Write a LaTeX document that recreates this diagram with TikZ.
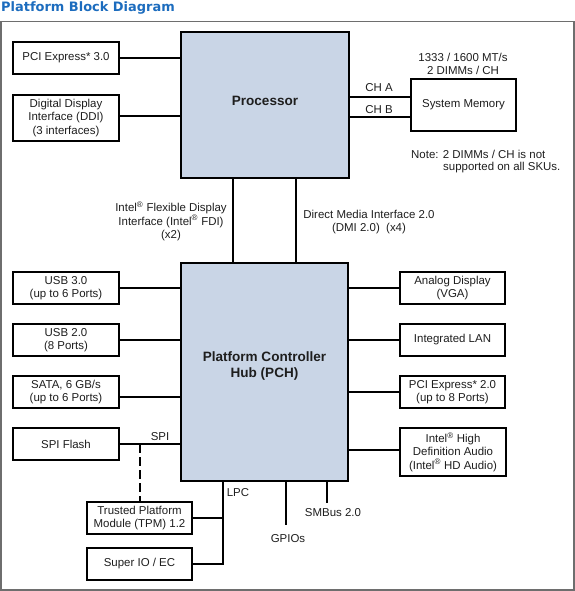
\documentclass[tikz,border=0pt]{standalone}
\usepackage{fontspec}
\setmainfont{Liberation Sans}
\newfontfamily\titlefont{DejaVu Sans}
\definecolor{chipfill}{RGB}{201,213,230}
\definecolor{titleblue}{RGB}{28,108,190}
\definecolor{framegray}{RGB}{110,110,110}
\definecolor{txt}{RGB}{30,30,30}
\begin{document}
\begin{tikzpicture}[x=1bp,y=-1bp,
  box/.style={draw=black,line width=2bp,fill=white,rectangle,inner sep=1pt,
    align=center,font=\fontsize{11.5}{13.5}\selectfont,text=txt},
  chip/.style={draw=black,line width=2bp,fill=chipfill,rectangle,inner sep=0pt},
  chiplbl/.style={inner sep=0pt,align=center,font=\fontsize{13.6}{15.5}\selectfont\bfseries,text=txt},
  lbl/.style={inner sep=0pt,align=center,font=\fontsize{11.5}{13.5}\selectfont,text=txt},
  wire/.style={draw=black,line width=2bp}]
\useasboundingbox (0,0) rectangle (575,591);
\node[anchor=west,inner sep=0pt,text=titleblue,font=\titlefont\fontsize{13}{15}\selectfont\bfseries] (title) at (1,7.5) {Platform Block Diagram};
\draw[framegray,line width=1.5bp] (0.75,21.5) rectangle (573.75,589.75);

% chips
\node[chip,minimum width=168bp,minimum height=146bp] (proc) at (265,105) {};
\node[chip,minimum width=167bp,minimum height=218bp] (pch) at (264.5,372) {};
\node[chiplbl] (procl) at (265,100.5) {Processor};
\node[chiplbl] (pchl) at (264.5,366) {Platform Controller\\Hub (PCH)};

% processor side boxes
\node[box,minimum width=106bp,minimum height=32bp] (pcie3) at (66,58) {PCI Express* 3.0};
\node[box,minimum width=106bp,minimum height=46bp] (ddi) at (66,118) {Digital Display\\Interface (DDI)\\(3 interfaces)};
\node[box,minimum width=105bp,minimum height=52bp] (mem) at (463.5,105) {System Memory};

% PCH left boxes
\node[box,minimum width=106bp,minimum height=32bp] (usb3) at (66,288) {USB 3.0\\(up to 6 Ports)};
\node[box,minimum width=106bp,minimum height=32bp] (usb2) at (66,340) {USB 2.0\\(8 Ports)};
\node[box,minimum width=106bp,minimum height=32bp] (sata) at (66,392) {SATA, 6 GB/s\\(up to 6 Ports)};
\node[box,minimum width=106bp,minimum height=32bp] (spiflash) at (66,444) {SPI Flash};
\node[box,minimum width=105bp,minimum height=32bp] (tpm) at (139.5,518) {Trusted Platform\\Module (TPM) 1.2};
\node[box,minimum width=105bp,minimum height=32bp] (superio) at (139.5,564) {Super IO / EC};

% PCH right boxes
\node[box,minimum width=105bp,minimum height=32bp] (vga) at (452.5,288) {Analog Display\\(VGA)};
\node[box,minimum width=105bp,minimum height=32bp] (lan) at (452.5,340) {Integrated LAN};
\node[box,minimum width=105bp,minimum height=32bp] (pcie2) at (452.5,392) {PCI Express* 2.0\\(up to 8 Ports)};
\node[box,minimum width=106bp,minimum height=48bp] (hda) at (453,452) {Intel\textsuperscript{®} High\\Definition Audio\\(Intel\textsuperscript{®} HD Audio)};

% helper coordinates
\coordinate (cha) at (0,97);
\coordinate (chb) at (0,117);
\coordinate (ddiy) at (0,116);
\coordinate (fdi) at (233,0);
\coordinate (dmi) at (296,0);
\coordinate (satay) at (0,397);
\coordinate (hday) at (0,450);
\coordinate (lpc) at (223,0);
\coordinate (gpioend) at (286,525);
\coordinate (smbend) at (327,503);

% labels
\node[lbl] (chal) at (379,88) {CH A};
\node[lbl] (chbl) at (379,110) {CH B};
\node[lbl] (speed) at (463,64) {1333 / 1600 MT/s\\2 DIMMs / CH};
\node[lbl,anchor=west] (note1) at (411,154) {Note: 2 DIMMs / CH is not};
\node[lbl,anchor=west] (note2) at (443,168) {supported on all SKUs.};
\node[lbl] (fdil) at (171,221.5) {Intel\textsuperscript{®} Flexible Display\\Interface (Intel\textsuperscript{®} FDI)\\(x2)};
\node[lbl] (dmil) at (369,222) {Direct Media Interface 2.0\\(DMI 2.0)\ \ (x4)};
\node[lbl] (spil) at (160,437) {SPI};
\node[lbl] (lpcl) at (238,493) {LPC};
\node[lbl] (gpiol) at (288,539) {GPIOs};
\node[lbl] (smbl) at (333,513) {SMBus 2.0};

% connectors
\draw[wire] (pcie3.east) -- (pcie3.east -| proc.west);
\draw[wire] (ddi.east |- ddiy) -- (proc.west |- ddiy);
\draw[wire] (proc.east |- cha) -- (mem.west |- cha);
\draw[wire] (proc.east |- chb) -- (mem.west |- chb);
\draw[wire] (proc.south -| fdi) -- (pch.north -| fdi);
\draw[wire] (proc.south -| dmi) -- (pch.north -| dmi);

\draw[wire] (usb3.east) -- (usb3.east -| pch.west);
\draw[wire] (usb2.east) -- (usb2.east -| pch.west);
\draw[wire] (sata.east |- satay) -- (pch.west |- satay);
\draw[wire] (spiflash.east) -- (spiflash.east -| pch.west);
\draw[black,line width=2bp,dash pattern=on 9bp off 4bp] (tpm.north |- spiflash.east) -- (tpm.north);
\draw[wire] (pch.south -| lpc) -- (superio.east -| lpc) -- (superio.east);
\draw[wire] (tpm.east) -- (tpm.east -| lpc);
\draw[wire] (pch.south -| gpioend) -- (gpioend);
\draw[wire] (pch.south -| smbend) -- (smbend);

\draw[wire] (pch.east |- vga.west) -- (vga.west);
\draw[wire] (pch.east |- lan.west) -- (lan.west);
\draw[wire] (pch.east |- pcie2.west) -- (pcie2.west);
\draw[wire] (pch.east |- hday) -- (hda.west |- hday);
\end{tikzpicture}
\end{document}
